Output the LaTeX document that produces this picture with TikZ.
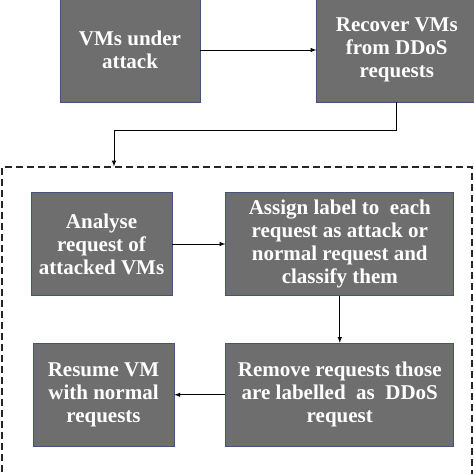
\documentclass[tikz,border=0pt]{standalone}
\usepackage{fontspec}
\setmainfont{Liberation Serif}
\usetikzlibrary{arrows,positioning,fit,backgrounds}
\definecolor{slate}{RGB}{68,84,120}

\begin{document}
\begin{tikzpicture}[node distance=50pt and 50pt, x=1pt, y=1pt]
    % Define styles
    \tikzstyle{stage}=[rectangle,draw=slate,fill=black!57,text=white,font=\bfseries\fontsize{21}{23}\selectfont,align=center,line width=0.8pt,minimum height=103pt,inner sep=1pt]
    \tikzstyle{group}=[rectangle,draw=black!85,dashed,dash pattern=on 7pt off 4pt,line width=1.2pt,inner sep=0pt]
    \tikzstyle{line}=[draw, line width=1pt, -latex]

    \clip (0,0) rectangle (474,-474);
    \useasboundingbox (0,0) rectangle (474,-474);

    % Top row
    \node [stage, minimum width=140pt, minimum height=104pt] (vms) at (130,-50) {VMs under\\attack};
    \node [stage, minimum width=160pt, minimum height=104pt, right=116pt of vms] (recover) {Recover VMs\\from DDoS\\requests};

    % Inner stages
    \node [stage, minimum width=141pt] (analyse) at (101.5,-244) {Analyse\\request of\\attacked VMs};
    \node [stage, minimum width=228pt, right=53pt of analyse] (assign) {Assign label to~ each\\request as attack or\\normal request and\\classify them};
    \node [stage, minimum width=228pt, below=47pt of assign] (remove) {Remove requests those\\are labelled~ as~ DDoS\\request};
    \node [stage, minimum width=141pt, left=51pt of remove] (resume) {Resume VM\\with normal\\requests};

    % Dashed frame
    \node [group, fit={(2,-167) (472,-480)}] (frame) {};

    % Define connections
    \coordinate (turn) at (114,-130);
    \path [line] (vms) -- (recover);
    \path [line] (recover.south) |- (turn) -- (turn |- frame.north);
    \path [line] (analyse) -- (assign);
    \path [line] (assign) -- (remove);
    \path [line] (remove) -- (resume);
\end{tikzpicture}
\end{document}
